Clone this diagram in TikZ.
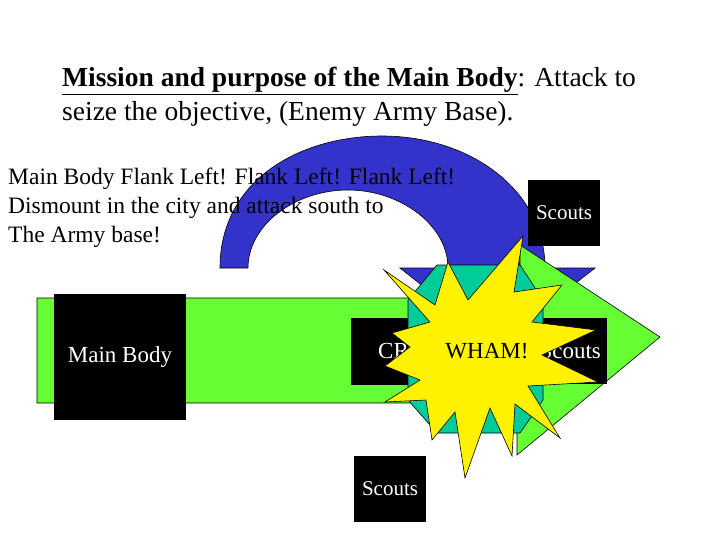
\documentclass[tikz,border=0pt]{standalone}
\usepackage{fontspec}
\setmainfont{Liberation Serif}
\tikzset{box/.style={fill=black,text=white,inner sep=0pt,font=\fontsize{23}{25}\selectfont},
 ol/.style={draw=black,line width=0.6pt}}
\begin{document}
\begin{tikzpicture}[x=1pt,y=-1pt]
\useasboundingbox (0,0) rectangle (720,540);
% blue U-turn arrow
\path[ol,fill={rgb,255:red,51;green,51;blue,204}] (220,268) .. controls (220,180) and (300,136) .. (382,136)
 .. controls (470,136) and (545,190) .. (545,268) -- (595,268) -- (497,345) -- (400,268) -- (448,268)
 .. controls (448,225) and (400,190) .. (348,190) .. controls (295,190) and (248,225) .. (248,268) -- cycle;
% green arrow
\path[ol,fill={rgb,255:red,102;green,255;blue,51}] (37,298) -- (520,298) -- (520,245) -- (660,337) -- (517,455) -- (517,403) -- (37,403) -- cycle;
% boxes
\node[box,minimum width=132,minimum height=126] (mb) at (120,357) {Main Body};
\node[box,minimum width=88,minimum height=67] (cr) at (397,351) {\hspace*{1.2em}CR\hspace*{1.5em}};
\node[box,minimum width=92,minimum height=66] (sr) at (561,351) {\hspace*{0.8em}Scouts};
\node[box,minimum width=72,minimum height=66] (st) at (564,213) {\fontsize{21}{22}\selectfont Scouts};
\node[box,minimum width=72,minimum height=66] (sb) at (390,489) {\fontsize{21}{22}\selectfont Scouts};
% teal octagon
\path[ol,fill={rgb,255:red,0;green,204;blue,153}] (437,265) -- (520,265) -- (543,300) -- (543,400) -- (520,433) -- (437,433) -- (408,400) -- (408,300) -- cycle;
% star
\path[ol,fill=yellow] (384,270) -- (435,305) -- (448,262) -- (468,300) -- (523,236) -- (514,292) -- (562,285) -- (532,322) -- (596,330) -- (542,355) -- (598,382) -- (528,386) -- (560,438) -- (515,404) -- (512,456) -- (490,408) -- (465,478) -- (455,412) -- (432,440) -- (426,400) -- (385,402) -- (420,380) -- (385,366) -- (410,347) -- (392,333) -- (430,322) -- cycle;
\node (wham) at (487,351) {\fontsize{23}{25}\selectfont WHAM!};
% texts
\node[anchor=west,align=left,inner sep=0pt,font=\fontsize{27.5}{34}\selectfont] (title) at (62,97)
 {\underline{\textbf{Mission and purpose of the Main Body}}: Attack to\\seize the objective, (Enemy Army Base).};
\node[anchor=north west,align=left,inner sep=0pt,font=\fontsize{23.5}{29}\selectfont] (orders) at (8,168)
 {Main Body Flank Left! Flank Left! Flank Left!\\Dismount in the city and attack south to\\The Army base!};
\end{tikzpicture}
\end{document}
